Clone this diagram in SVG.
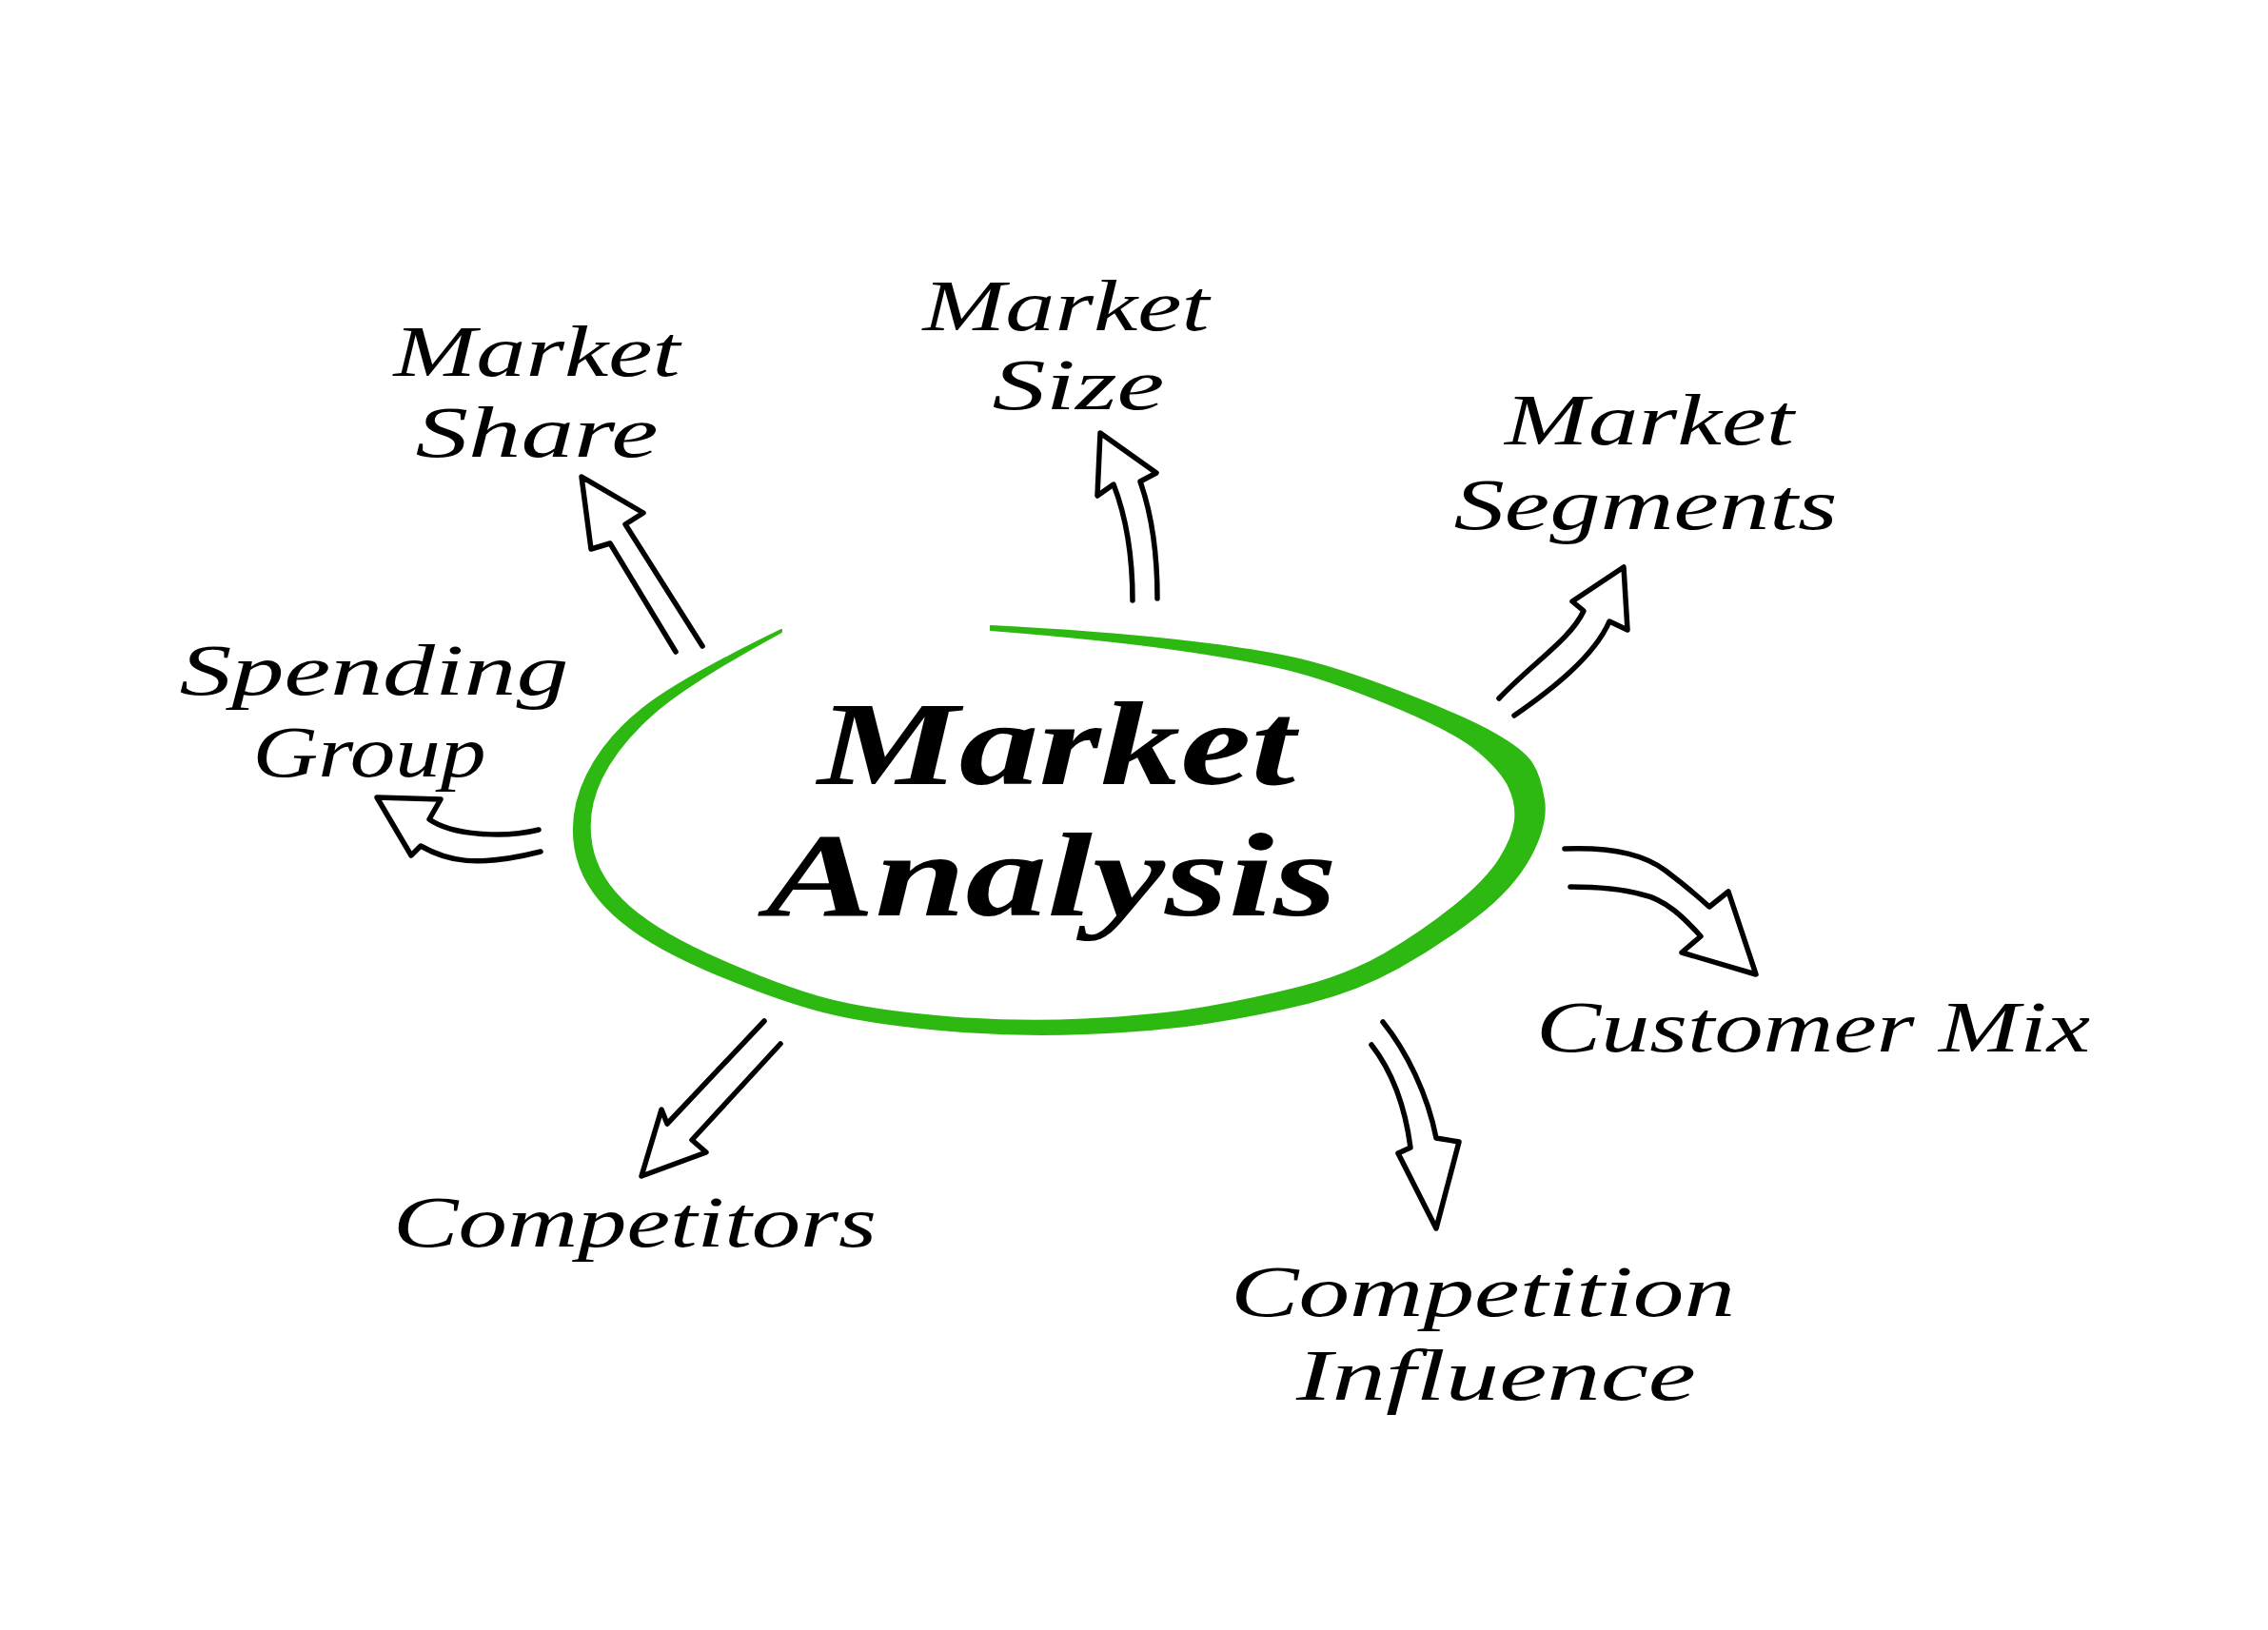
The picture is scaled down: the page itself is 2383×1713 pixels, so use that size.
<svg xmlns="http://www.w3.org/2000/svg" width="2383" height="1713" viewBox="0 0 2383 1713">
<style>
.lbl{font-family:"Liberation Serif","DejaVu Serif",serif;font-style:italic;font-size:76px;fill:#000;text-anchor:middle}
.big{font-family:"Liberation Serif","DejaVu Serif",serif;font-style:italic;font-weight:bold;font-size:124px;fill:#000;text-anchor:middle}
.arr{fill:none;stroke:#000;stroke-width:5.5;stroke-linejoin:round;stroke-linecap:round}
.ring{fill:#2db812;stroke:#2db812;stroke-width:2;stroke-linejoin:round}
</style>
<rect width="2383" height="1713" fill="#fff"/>
<g id="node-market-analysis">
<path class="ring" d="M821,662 Q714,714 675,745 Q636,776 617,814.5 Q598,853 604.5,891.5 Q611,930 645.5,961.5 Q680,993 749,1022 Q818,1051 865,1063 Q912,1075 988,1082 Q1064,1089 1140,1086 Q1216,1083 1270.5,1074.5 Q1325,1066 1375.5,1053.5 Q1426,1041 1469,1017 Q1512,993 1551,963 Q1590,933 1608,899.5 Q1626,866 1622,840.5 Q1618,815 1609,801.5 Q1600,788 1570,771 Q1540,754 1470,727 Q1400,700 1354,690.5 Q1308,681 1232,672.5 Q1156,664 1041,658 L1041,662 Q1155,671 1230,681.5 Q1305,692 1349.5,702.5 Q1394,713 1461,740.5 Q1528,768 1553,789 Q1578,810 1586,827.5 Q1594,845 1592,862.5 Q1590,880 1576,902.5 Q1562,925 1528,952.5 Q1494,980 1455,1002.5 Q1416,1025 1367,1037.5 Q1318,1050 1266,1059 Q1214,1068 1139,1071.5 Q1064,1075 989,1068.5 Q914,1062 870,1050.5 Q826,1039 760,1010.5 Q694,982 661,953 Q628,924 621.5,888.5 Q615,853 631.5,818.5 Q648,784 685,751 Q722,718 821,664 Z"/>
<text class="big" x="1110" y="824" textLength="502" lengthAdjust="spacingAndGlyphs">Market</text>
<text class="big" x="1105" y="962" textLength="600" lengthAdjust="spacingAndGlyphs">Analysis</text>
</g>
<g id="node-market-share">
<text class="lbl" x="564" y="395" textLength="301" lengthAdjust="spacingAndGlyphs">Market</text>
<text class="lbl" x="564" y="480" textLength="255" lengthAdjust="spacingAndGlyphs">Share</text>
</g>
<g id="node-market-size">
<text class="lbl" x="1120" y="347" textLength="301" lengthAdjust="spacingAndGlyphs">Market</text>
<text class="lbl" x="1133" y="430" textLength="181" lengthAdjust="spacingAndGlyphs">Size</text>
</g>
<g id="node-market-segments">
<text class="lbl" x="1733" y="467" textLength="304" lengthAdjust="spacingAndGlyphs">Market</text>
<text class="lbl" x="1729" y="556" textLength="403" lengthAdjust="spacingAndGlyphs">Segments</text>
</g>
<g id="node-spending-group">
<text class="lbl" x="393" y="730" textLength="409" lengthAdjust="spacingAndGlyphs">Spending</text>
<text class="lbl" x="388" y="816" textLength="245" lengthAdjust="spacingAndGlyphs">Group</text>
</g>
<g id="node-customer-mix">
<text class="lbl" x="1905" y="1105" textLength="582" lengthAdjust="spacingAndGlyphs">Customer Mix</text>
</g>
<g id="node-competitors">
<text class="lbl" x="667" y="1310" textLength="508" lengthAdjust="spacingAndGlyphs">Competitors</text>
</g>
<g id="node-competition-influence">
<text class="lbl" x="1558" y="1383" textLength="530" lengthAdjust="spacingAndGlyphs">Competition</text>
<text class="lbl" x="1572" y="1471" textLength="420" lengthAdjust="spacingAndGlyphs">Influence</text>
</g>
<g id="connectors">
<path class="arr" d="M710,685 L641,571 L621,577 L611,501 L676,539 L657,551 L738,679"/>
<path class="arr" d="M1190,631 C1190,580 1182,540 1170,509 L1153,521 L1156,455 L1215,497 L1198,506 C1210,540 1216,580 1216,629"/>
<path class="arr" d="M1575,734 C1610,697 1650,672 1664,642 L1652,632 L1706,596 L1710,662 L1691,653 C1675,690 1630,725 1591,752"/>
<path class="arr" d="M566,872 C530,881 475,878 451,861 L463,840 L396,838 L432,899 L442,889 C470,905 500,912 568,895"/>
<path class="arr" d="M1644,892 C1700,890 1730,900 1750,915 C1770,930 1785,943 1796,953 L1816,937 L1845,1024 L1767,1001 L1787,984 C1770,965 1750,945 1725,940 C1700,933 1675,932 1650,932"/>
<path class="arr" d="M803,1073 L701,1181 L695,1166 L674,1236 L742,1211 L727,1198 L820,1097"/>
<path class="arr" d="M1453,1074 C1478,1105 1500,1150 1509,1196 L1533,1200 L1509,1291 L1469,1212 L1482,1206 C1476,1160 1462,1125 1441,1098"/>
</g>
</svg>
